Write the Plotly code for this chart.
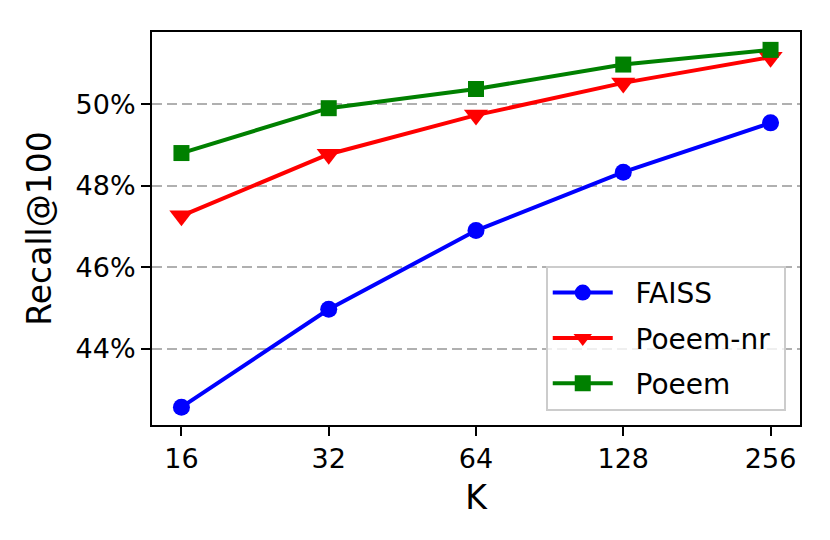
"""Recall@100 vs K line chart."""

import math

import plotly.graph_objects as go

K = [16, 32, 64, 128, 256]
K_LABELS = ["16", "32", "64", "128", "256"]
FAISS = [42.57, 44.97, 46.90, 48.33, 49.54]
POEEM_NR = [47.26, 48.77, 49.73, 50.52, 51.15]
POEEM = [48.80, 49.90, 50.37, 50.97, 51.33]
Y_TICKS = [44, 46, 48, 50]
Y_LABELS = ["44%", "46%", "48%", "50%"]

FONT = "DejaVu Sans"
NBSP = "\u00a0"

series = [
    ("FAISS", FAISS, "blue", "circle", 17),
    ("Poeem-nr", POEEM_NR, "red", "triangle-down", 21),
    ("Poeem", POEEM, "green", "square", 16),
]

fig = go.Figure()
for name, ys, color, symbol, size in series:
    fig.add_trace(
        go.Scatter(
            x=K,
            y=ys,
            name=NBSP * 2 + name + NBSP,
            legendgroup=name,
            mode="lines+markers",
            line=dict(color=color, width=4),
            marker=dict(symbol=symbol, size=size, color=color, line=dict(width=0)),
        )
    )

# matplotlib-style 5% padding on a log2 axis
lo, hi = math.log2(K[0]), math.log2(K[-1])
pad = (hi - lo) * 0.05
x_range = [math.log10(2 ** (lo - pad)), math.log10(2 ** (hi + pad))]

ymin, ymax = min(FAISS), max(POEEM)
ypad = (ymax - ymin) * 0.05

axis_common = dict(
    showline=True,
    linecolor="black",
    linewidth=2,
    mirror=True,
    ticks="outside",
    ticklen=9,
    tickwidth=2,
    tickcolor="black",
    tickfont=dict(family=FONT, size=27, color="black"),
    zeroline=False,
    automargin=False,
)

# page body adds ~8px offset, so the figure is a bit smaller than the window
fig.update_layout(
    width=822,
    height=532,
    paper_bgcolor="white",
    plot_bgcolor="white",
    font=dict(family=FONT, color="black"),
    margin=dict(l=144, r=30, t=24, b=115),
    xaxis=dict(
        type="log",
        range=x_range,
        tickvals=K,
        ticktext=K_LABELS,
        showgrid=False,
        title=dict(text="K", font=dict(family=FONT, size=33), standoff=12),
        **axis_common,
    ),
    yaxis=dict(
        range=[ymin - ypad, ymax + ypad],
        tickvals=Y_TICKS,
        ticktext=Y_LABELS,
        showgrid=True,
        gridcolor="#b0b0b0",
        gridwidth=2,
        griddash="10px,5px",
        title=dict(text="Recall@100", font=dict(family=FONT, size=33), standoff=14),
        **axis_common,
    ),
    legend=dict(
        x=0.978,
        y=0.036,
        xanchor="right",
        yanchor="bottom",
        bgcolor="rgba(255,255,255,0.8)",
        bordercolor="#cccccc",
        borderwidth=2,
        font=dict(family=FONT, size=28, color="black"),
        itemwidth=60,
        tracegroupgap=6,
    ),
)

fig.write_html("out.html")
